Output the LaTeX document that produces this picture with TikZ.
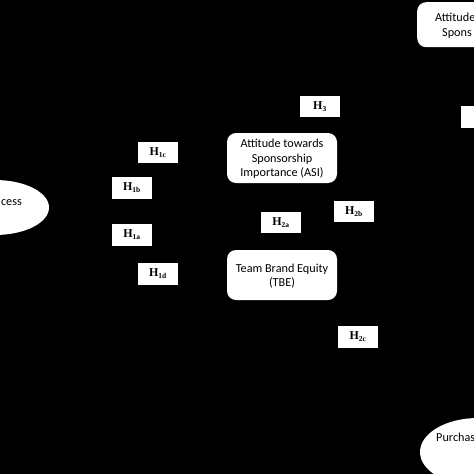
\documentclass[tikz,border=0pt]{standalone}
\usepackage{fontspec}
\usetikzlibrary{shapes.geometric}
\newfontfamily\calfont{Carlito}
\newfontfamily\tmsfont{Liberation Serif}
\tikzset{
  rbox/.style={draw=none, fill=white, rounded corners=9pt},
  hbox/.style={fill=white, minimum width=40pt, minimum height=21.5pt, inner sep=0pt,
    font=\tmsfont\bfseries\fontsize{12}{13}\selectfont},
  btext/.style={font=\calfont\fontsize{12.2}{14.6}\selectfont, align=center, inner sep=0pt},
  ell/.style={ellipse, fill=white, inner sep=0pt},
}
\newcommand{\hlab}[2]{H\textsubscript{\fontsize{7.5}{8}\selectfont #1#2}}
\begin{document}
\begin{tikzpicture}[x=1pt,y=-1pt]
\useasboundingbox (0,0) rectangle (474,474);
\fill[black] (0,0) rectangle (474,474);
% ellipses
\node[ell, minimum width=108pt, minimum height=55pt] (succ) at (-5,207.5) {};
\node[btext, anchor=base east] (succt) at (22,205) {cess};
\node[ell, minimum width=116pt, minimum height=68pt] (purch) at (478,452) {};
\node[btext, anchor=base west] (purcht) at (436,441) {Purchas};
% rounded boxes
\node[rbox, minimum width=110pt, minimum height=50pt] (asi) at (282,158) {};
\node[btext] (asit) at (282,159) {Attitude towards\\Sponsorship\\Importance (ASI)};
\node[rbox, minimum width=110pt, minimum height=50pt] (tbe) at (282,275) {};
\node[btext] (tbet) at (282,276) {Team Brand Equity\\(TBE)};
\node[rbox, minimum width=110pt, minimum height=45pt, anchor=north west] (ats) at (417,2) {};
\node[btext, anchor=base west] (atst1) at (435,21) {Attitude};
\node[btext, anchor=base west] (atst2) at (442,36) {Spons};
% hypothesis boxes
\node[hbox] (h1c) at (158,152.5) {\hlab{1}{c}};
\node[hbox] (h1b) at (132,188) {\hlab{1}{b}};
\node[hbox] (h1a) at (132,235) {\hlab{1}{a}};
\node[hbox] (h1d) at (158,274) {\hlab{1}{d}};
\node[hbox] (h3) at (320,106.5) {\hlab{3}{}};
\node[hbox] (h2a) at (281,222.5) {\hlab{2}{a}};
\node[hbox] (h2b) at (354,211.5) {\hlab{2}{b}};
\node[hbox] (h2c) at (358,337) {\hlab{2}{c}};
\node[hbox, anchor=west] (h4) at (461,117) {};
\end{tikzpicture}
\end{document}
